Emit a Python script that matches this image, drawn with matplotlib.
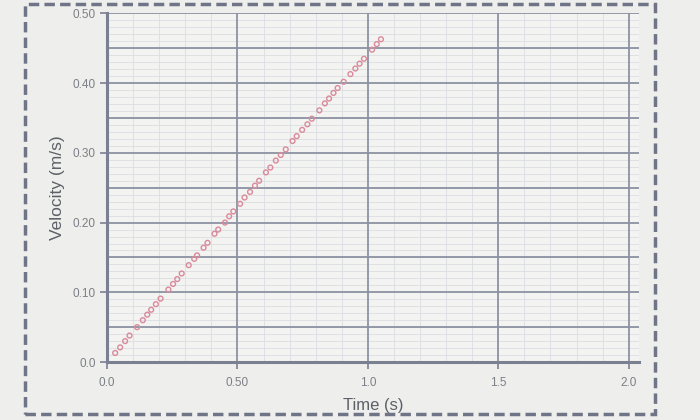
import matplotlib
matplotlib.use("Agg")
import matplotlib.pyplot as plt
from matplotlib.patches import Rectangle
from matplotlib.ticker import MultipleLocator, FixedLocator

plt.rcParams["font.family"] = ["Liberation Sans", "DejaVu Sans"]

time_s = [0.031, 0.050, 0.069, 0.086, 0.115, 0.137, 0.154, 0.169, 0.187, 0.205,
          0.235, 0.253, 0.269, 0.286, 0.313, 0.334, 0.345, 0.370, 0.385, 0.412,
          0.426, 0.452, 0.468, 0.484, 0.510, 0.527, 0.548, 0.567, 0.583, 0.609,
          0.626, 0.647, 0.666, 0.685, 0.711, 0.727, 0.748, 0.768, 0.785, 0.814,
          0.835, 0.851, 0.868, 0.884, 0.907, 0.933, 0.952, 0.968, 0.985, 1.016,
          1.034, 1.050]
velocity = [0.013, 0.021, 0.030, 0.038, 0.050, 0.060, 0.068, 0.075, 0.083, 0.091,
            0.104, 0.112, 0.119, 0.127, 0.139, 0.148, 0.153, 0.164, 0.171, 0.184,
            0.190, 0.200, 0.209, 0.216, 0.227, 0.236, 0.244, 0.253, 0.260, 0.272,
            0.279, 0.289, 0.297, 0.305, 0.317, 0.324, 0.333, 0.341, 0.349, 0.361,
            0.371, 0.378, 0.386, 0.393, 0.402, 0.413, 0.421, 0.428, 0.435, 0.448,
            0.456, 0.463]

x_ticks = [0.0, 0.5, 1.0, 1.5, 2.0]
x_tick_labels = ["0.0", "0.50", "1.0", "1.5", "2.0"]
y_ticks = [0.0, 0.1, 0.2, 0.3, 0.4, 0.5]
y_tick_labels = ["0.0", "0.10", "0.20", "0.30", "0.40", "0.50"]

bg = "#eeeeec"
grid_major = "#8d92a3"
grid_minor = "#dcdde2"
spine_c = "#7a7f92"
text_c = "#7d7f86"
label_c = "#5e6068"

fig = plt.figure(figsize=(7, 4.2), dpi=100, facecolor=bg)
ax = fig.add_axes([0.153, 0.138, 0.76, 0.83])
ax.set_facecolor("#f3f3f1")
ax.set_axisbelow(True)

ax.set_xlim(0, 2.04)
ax.set_ylim(0, 0.5)

ax.xaxis.set_major_locator(FixedLocator(x_ticks))
ax.set_xticklabels(x_tick_labels)
ax.yaxis.set_major_locator(FixedLocator(y_ticks))
ax.set_yticklabels(y_tick_labels)
ax.xaxis.set_minor_locator(MultipleLocator(0.1))
ax.yaxis.set_minor_locator(MultipleLocator(0.01))

# minor grid
ax.grid(which="minor", color=grid_minor, linewidth=0.6)
# major grid: verticals every 0.5, horizontals every 0.05
for xv in x_ticks[1:]:
    ax.axvline(xv, color=grid_major, linewidth=1.3, zorder=2)
for k in range(1, 11):
    ax.axhline(k * 0.05, color=grid_major, linewidth=1.3, zorder=2)

for side in ["top", "right"]:
    ax.spines[side].set_visible(False)
for side in ["left", "bottom"]:
    ax.spines[side].set_color(spine_c)
    ax.spines[side].set_linewidth(2.2)
    ax.spines[side].set_zorder(3)

ax.tick_params(which="minor", length=0)
ax.tick_params(which="major", length=5, width=1.2, color=spine_c,
               labelcolor=text_c, labelsize=8.5, pad=3)
ax.tick_params(axis="x", which="major", pad=6)

ax.scatter(time_s, velocity, s=12, facecolors="none", edgecolors="#d98a9b",
           linewidths=1.0, zorder=5)

ax.set_xlabel("Time (s)", fontsize=12, color=label_c, labelpad=6)
ax.set_ylabel("Velocity (m/s)", fontsize=12.5, color=label_c, labelpad=6)

# dashed frame around the chart
frame = Rectangle((0.036, 0.014), 0.9, 0.976, transform=fig.transFigure,
                  fill=False, edgecolor="#6f7487", linewidth=2.5,
                  linestyle=(0, (3, 1.5)), zorder=10)
fig.patches.append(frame)

fig.savefig("out.png", dpi=100, facecolor=bg)
